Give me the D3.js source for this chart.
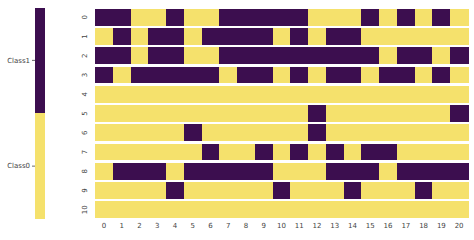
<!DOCTYPE html>
<html>
<head>
<meta charset="utf-8">
<script src="https://cdn.jsdelivr.net/npm/d3@7"></script>
<style>
  body { margin: 0; background: #fff; }
  text { font-family: "DejaVu Sans", sans-serif; fill: #444; }
</style>
</head>
<body>
<svg id="chart" width="474" height="240"></svg>
<script>
// columns 0..20, rows 0..10; listed are the columns that hold Class1 per row
const columns = d3.range(21);
const rows = d3.range(11);
const class1Cells = [
  [0, 1, 4, 7, 8, 9, 10, 11, 15, 17, 19],
  [1, 3, 4, 6, 7, 8, 9, 11, 13, 14],
  [0, 1, 3, 4, 7, 8, 9, 10, 11, 12, 13, 14, 15, 17, 18, 20],
  [0, 2, 3, 4, 5, 6, 8, 9, 11, 13, 14, 16, 17, 19],
  [],
  [12, 20],
  [5, 12],
  [6, 9, 11, 13, 15, 16],
  [1, 2, 3, 5, 6, 7, 8, 9, 13, 14, 15, 17, 18, 19, 20],
  [4, 10, 14, 18],
  []
];
const classLabels = ["Class0", "Class1"];
const classColors = ["#f5e16c", "#3c0e4f"];

const svg = d3.select("#chart");

const x = d3.scaleBand().domain(columns).range([95, 468]);
const y = d3.scaleBand().domain(rows).range([9, 218]).paddingInner(0.14);
const color = d3.scaleOrdinal().domain([0, 1]).range(classColors);

const cells = [];
rows.forEach(r => {
  const dark = new Set(class1Cells[r]);
  columns.forEach(c => cells.push({ r, c, v: dark.has(c) ? 1 : 0 }));
});

svg.append("g")
  .attr("shape-rendering", "crispEdges")
  .selectAll("rect")
  .data(cells)
  .join("rect")
  .attr("x", d => x(d.c))
  .attr("y", d => y(d.r))
  .attr("width", x.bandwidth() + 0.5)
  .attr("height", y.bandwidth())
  .attr("fill", d => color(d.v));

// x axis tick labels
const xAxis = svg.append("g")
  .attr("transform", `translate(0,${218})`)
  .call(d3.axisBottom(x).tickSize(0).tickPadding(5));
xAxis.select(".domain").remove();
xAxis.selectAll("text").attr("font-size", 7).attr("fill", "#444");

// y axis tick labels, rotated
const yAxis = svg.append("g")
  .attr("transform", `translate(95,0)`)
  .call(d3.axisLeft(y).tickSize(0).tickPadding(0));
yAxis.select(".domain").remove();
yAxis.selectAll("text")
  .attr("font-size", 7)
  .attr("fill", "#444")
  .attr("x", 0)
  .attr("dy", 0)
  .attr("text-anchor", "middle")
  .attr("transform", "translate(-8,0) rotate(-90)");

// colorbar
const cb = d3.scaleBand().domain([1, 0]).range([7.5, 219]);
const cbar = svg.append("g").attr("shape-rendering", "crispEdges");
cbar.selectAll("rect")
  .data([1, 0])
  .join("rect")
  .attr("x", 35)
  .attr("y", d => cb(d))
  .attr("width", 10)
  .attr("height", cb.bandwidth())
  .attr("fill", d => color(d));

const cbAxis = svg.append("g")
  .attr("transform", "translate(35,0)")
  .call(d3.axisLeft(cb).tickSize(3).tickPadding(2).tickFormat(d => classLabels[d]));
cbAxis.select(".domain").remove();
cbAxis.selectAll("line").attr("stroke", "#444").attr("stroke-width", 0.8);
cbAxis.selectAll("text").attr("font-size", 7).attr("fill", "#444");
</script>
</body>
</html>
